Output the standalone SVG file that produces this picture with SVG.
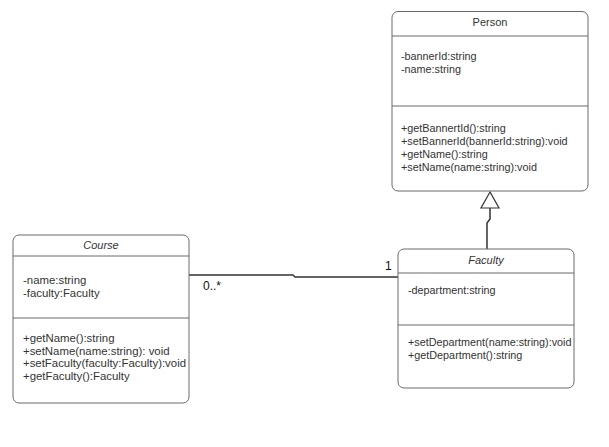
<svg xmlns="http://www.w3.org/2000/svg" width="609" height="447" viewBox="0 0 609 447">
<style>
.box{fill:#fff;stroke:#6a6a6a;stroke-width:1}
.sep{stroke:#6a6a6a;stroke-width:1}
text{font-family:"Liberation Sans",Arial,sans-serif;font-size:10.8px;fill:#333}
.title{text-anchor:middle;font-size:11px}
.it{font-style:italic}
.c{font-size:11.4px}
.lbl{font-size:12px;fill:#111}
.conn{fill:none;stroke:#333;stroke-width:1.5}
</style>
<rect width="609" height="447" fill="#fff"/>
<g id="connectors">
<path class="conn" d="M189,275 H293 L295,277 H398"/>
<path class="conn" d="M487,249 V223 L490,219 V208" stroke-width="1.2"/>
<polygon points="490,192 481,208 499,208" fill="#fff" stroke="#333" stroke-width="1.2"/>
<text class="lbl" x="203" y="290">0..*</text>
<text class="lbl" x="385" y="270">1</text>
</g>
<g id="person">
<rect class="box" x="392" y="11.5" width="196" height="179.5" rx="6"/>
<line class="sep" x1="392" y1="36" x2="588" y2="36"/>
<line class="sep" x1="392" y1="106" x2="588" y2="106"/>
<text class="title" x="490" y="26">Person</text>
<text x="401" y="60">-bannerId:string</text>
<text x="401" y="73">-name:string</text>
<text x="401" y="132">+getBannertId():string</text>
<text x="401" y="145">+setBannerId(bannerId:string):void</text>
<text x="401" y="158">+getName():string</text>
<text x="401" y="171">+setName(name:string):void</text>
</g>
<g id="course">
<rect class="box" x="13" y="235" width="176" height="168" rx="6"/>
<line class="sep" x1="13" y1="256" x2="189" y2="256"/>
<line class="sep" x1="13" y1="318" x2="189" y2="318"/>
<text class="title it" x="101" y="249">Course</text>
<text class="c" x="23" y="284">-name:string</text>
<text class="c" x="23" y="297">-faculty:Faculty</text>
<text class="c" x="23" y="342">+getName():string</text>
<text class="c" x="23" y="354.5">+setName(name:string): void</text>
<text class="c" x="23" y="367">+setFaculty(faculty:Faculty):void</text>
<text class="c" x="23" y="379.5">+getFaculty():Faculty</text>
</g>
<g id="faculty">
<rect class="box" x="398" y="249" width="176" height="139" rx="6"/>
<line class="sep" x1="398" y1="273" x2="574" y2="273"/>
<line class="sep" x1="398" y1="325" x2="574" y2="325"/>
<text class="title it" x="486" y="264">Faculty</text>
<text x="408" y="294">-department:string</text>
<text x="408" y="346">+setDepartment(name:string):void</text>
<text x="408" y="358.5">+getDepartment():string</text>
</g>
</svg>
